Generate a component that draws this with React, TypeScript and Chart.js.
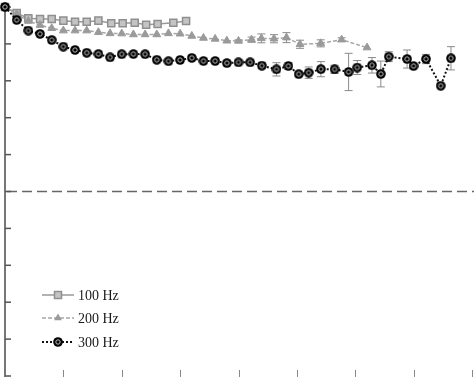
import React, { useEffect, useRef } from 'react';
import { Chart, registerables } from 'chart.js';

Chart.register(...registerables);

const seriesLabels = ['100 Hz', '200 Hz', '300 Hz'];

const hz100X = [0, 1, 2, 3, 4, 5, 6, 7, 8, 9.1, 10.08, 11.11, 12.09, 13.07, 14.42, 15.51];
const hz100Y = [1, 0.967, 0.939, 0.935, 0.935, 0.926, 0.92, 0.92, 0.926, 0.912, 0.912, 0.915, 0.904, 0.908, 0.915, 0.924];

const hz200X = [0, 1, 2, 3, 4, 5, 6, 7, 8, 9, 10, 11, 12, 13, 14, 15, 16, 17, 18, 19, 20, 21.12, 21.96, 23.04, 24.11, 25.27, 27.04, 28.83, 31.01];
const hz200Y = [1, 0.962, 0.924, 0.902, 0.885, 0.872, 0.872, 0.872, 0.863, 0.857, 0.856, 0.851, 0.851, 0.851, 0.857, 0.855, 0.843, 0.832, 0.827, 0.817, 0.816, 0.823, 0.83, 0.828, 0.834, 0.798, 0.803, 0.823, 0.78];
const hz200Err = [0, 0, 0, 0, 0, 0, 0, 0, 0, 0, 0, 0, 0, 0, 0, 0, 0, 0, 0, 0, 0.006, 0.014, 0.024, 0.022, 0.027, 0.022, 0.019, 0.01, 0];

const hz300X = [0, 1, 2, 3, 4, 5, 6, 7, 8, 9, 10, 11, 12, 13, 14, 15, 16, 17, 18, 19, 20, 21, 22, 23.25, 24.27, 25.16, 26.01, 27.06, 28.23, 29.43, 30.17, 31.43, 32.19, 32.87, 34.44, 34.99, 36.06, 37.32, 38.2];
const hz300Y = [1, 0.93, 0.872, 0.854, 0.821, 0.785, 0.767, 0.752, 0.745, 0.727, 0.744, 0.745, 0.744, 0.714, 0.706, 0.713, 0.724, 0.707, 0.707, 0.696, 0.7, 0.7, 0.682, 0.662, 0.68, 0.636, 0.644, 0.663, 0.662, 0.648, 0.672, 0.684, 0.637, 0.731, 0.718, 0.68, 0.718, 0.573, 0.722];
const hz300Err = [0, 0, 0, 0, 0, 0, 0, 0, 0, 0, 0, 0, 0, 0.011, 0.011, 0.011, 0.011, 0.011, 0.011, 0.011, 0.011, 0.011, 0.016, 0.036, 0.018, 0.012, 0.031, 0.041, 0.022, 0.101, 0.038, 0.042, 0.07, 0.027, 0.049, 0.01, 0.025, 0.01, 0.063];

const xTicks = [0, 5, 10, 15, 20, 25, 30, 35, 40];
const yTicks = [-1, -0.8, -0.6, -0.4, -0.2, 0, 0.2, 0.4, 0.6, 0.8, 1];
const refLineValue = 0;

const W = 474;
const H = 377;

export default function App() {
  const ref = useRef<HTMLCanvasElement>(null);

  useEffect(() => {
    const canvas = ref.current!;
    const mk = document.createElement('canvas');
    mk.width = 10;
    mk.height = 10;
    const m = mk.getContext('2d')!;
    m.fillStyle = '#000';
    m.beginPath();
    m.arc(5, 5, 4.8, 0, Math.PI * 2);
    m.fill();
    m.strokeStyle = '#bdbdbd';
    m.lineWidth = 1;
    m.beginPath();
    m.arc(5, 5, 2.2, 0, Math.PI * 2);
    m.stroke();

    const errs: (number[] | null)[] = [null, hz200Err, hz300Err];

    const drawSquare = (ctx: CanvasRenderingContext2D, x: number, y: number) => {
      ctx.fillStyle = '#c4c4c4';
      ctx.strokeStyle = '#8f8f8f';
      ctx.lineWidth = 1.5;
      ctx.setLineDash([]);
      ctx.fillRect(x - 3.5, y - 3.5, 7, 7);
      ctx.strokeRect(x - 3.5, y - 3.5, 7, 7);
    };
    const drawTri = (ctx: CanvasRenderingContext2D, x: number, y: number) => {
      const r = 4.5;
      ctx.fillStyle = '#9a9a9a';
      ctx.beginPath();
      ctx.moveTo(x, y - r);
      ctx.lineTo(x + r * 0.866, y + r * 0.5);
      ctx.lineTo(x - r * 0.866, y + r * 0.5);
      ctx.closePath();
      ctx.fill();
    };

    const plugin = {
      id: 'customAxes',
      beforeDatasetsDraw(chart: any) {
        const { ctx, chartArea, scales } = chart;
        const xs = scales.x;
        const ys = scales.y;
        ctx.save();
        const yr = ys.getPixelForValue(refLineValue);
        ctx.strokeStyle = '#666';
        ctx.lineWidth = 1.5;
        ctx.setLineDash([10, 5]);
        ctx.beginPath();
        ctx.moveTo(chartArea.left + 2, yr);
        ctx.lineTo(W, yr);
        ctx.stroke();
        ctx.setLineDash([]);
        ctx.strokeStyle = '#777';
        ctx.lineWidth = 2;
        ctx.beginPath();
        ctx.moveTo(chartArea.left, chartArea.top - 2);
        ctx.lineTo(chartArea.left, H);
        ctx.stroke();
        ctx.strokeStyle = '#555';
        ctx.lineWidth = 1.5;
        yTicks.forEach((v) => {
          const py = ys.getPixelForValue(v);
          ctx.beginPath();
          ctx.moveTo(chartArea.left, py);
          ctx.lineTo(chartArea.left + 6, py);
          ctx.stroke();
        });
        ctx.strokeStyle = '#888';
        ctx.lineWidth = 1;
        xTicks.forEach((v) => {
          if (v === xs.min) return;
          const px = Math.round(xs.getPixelForValue(v)) + 0.5;
          ctx.beginPath();
          ctx.moveTo(px, chartArea.bottom - 6);
          ctx.lineTo(px, H);
          ctx.stroke();
        });
        ctx.strokeStyle = '#8a8a8a';
        ctx.lineWidth = 1;
        chart.data.datasets.forEach((ds: any, di: number) => {
          const e = errs[di];
          if (!e) return;
          ds.data.forEach((p: any, i: number) => {
            const err = e[i];
            if (!err) return;
            const px = xs.getPixelForValue(p.x);
            const y1 = ys.getPixelForValue(p.y + err);
            const y2 = ys.getPixelForValue(p.y - err);
            ctx.beginPath();
            ctx.moveTo(px, y1);
            ctx.lineTo(px, y2);
            ctx.moveTo(px - 4, y1);
            ctx.lineTo(px + 4, y1);
            ctx.moveTo(px - 4, y2);
            ctx.lineTo(px + 4, y2);
            ctx.stroke();
          });
        });
        ctx.restore();
      },
      afterDraw(chart: any) {
        const { ctx } = chart;
        ctx.save();
        const rows = [295, 318, 342];
        const x1 = 42;
        const x2 = 74;
        const xm = 58;
        chart.data.datasets.forEach((ds: any, i: number) => {
          const y = rows[i];
          ctx.strokeStyle = ds.borderColor;
          ctx.lineWidth = ds.borderWidth;
          ctx.setLineDash(ds.borderDash || []);
          ctx.beginPath();
          ctx.moveTo(x1, y);
          ctx.lineTo(x2, y);
          ctx.stroke();
          ctx.setLineDash([]);
          if (i === 0) drawSquare(ctx, xm, y);
          else if (i === 1) drawTri(ctx, xm, y);
          else ctx.drawImage(mk, xm - 5, y - 5);
          ctx.fillStyle = '#1a1a1a';
          ctx.font = '14px "Liberation Serif", "Times New Roman", serif';
          ctx.textBaseline = 'middle';
          ctx.textAlign = 'left';
          ctx.fillText(ds.label, 78, y + 1);
        });
        ctx.restore();
      },
    };

    const toPts = (xs: number[], ys: number[]) => xs.map((x, i) => ({ x, y: ys[i] }));

    const chart = new Chart(canvas, {
      type: 'line',
      data: {
        datasets: [
          {
            label: seriesLabels[0],
            data: toPts(hz100X, hz100Y),
            borderColor: '#999',
            borderWidth: 1.5,
            pointStyle: 'rect',
            pointRadius: 5,
            pointBackgroundColor: '#c4c4c4',
            pointBorderColor: '#8f8f8f',
            pointBorderWidth: 1.5,
            tension: 0,
            clip: false as any,
            order: 3,
          },
          {
            label: seriesLabels[1],
            data: toPts(hz200X, hz200Y),
            borderColor: '#a6a6a6',
            borderWidth: 1.5,
            borderDash: [4, 2],
            pointStyle: 'triangle',
            pointRadius: 4.5,
            pointBackgroundColor: '#9a9a9a',
            pointBorderColor: '#9a9a9a',
            pointBorderWidth: 1,
            tension: 0,
            clip: false as any,
            order: 2,
          },
          {
            label: seriesLabels[2],
            data: toPts(hz300X, hz300Y),
            borderColor: '#111',
            borderWidth: 2,
            borderDash: [2, 2],
            pointStyle: mk as any,
            pointRadius: 5,
            tension: 0,
            clip: false as any,
            order: 1,
          },
        ],
      },
      options: {
        responsive: false,
        animation: false,
        devicePixelRatio: 1,
        layout: { autoPadding: false, padding: { left: 5, top: 7, right: 2, bottom: 1 } },
        plugins: { legend: { display: false }, tooltip: { enabled: false } },
        scales: {
          x: { type: 'linear', min: 0, max: 40, display: false },
          y: { type: 'linear', min: -1, max: 1, display: false },
        },
      },
      plugins: [plugin],
    });
    return () => chart.destroy();
  }, []);

  return (
    <div style={{ position: 'fixed', left: 0, top: 0, width: W, height: H, background: '#fff' }}>
      <canvas ref={ref} width={W} height={H} style={{ width: W, height: H, display: 'block' }} />
    </div>
  );
}
